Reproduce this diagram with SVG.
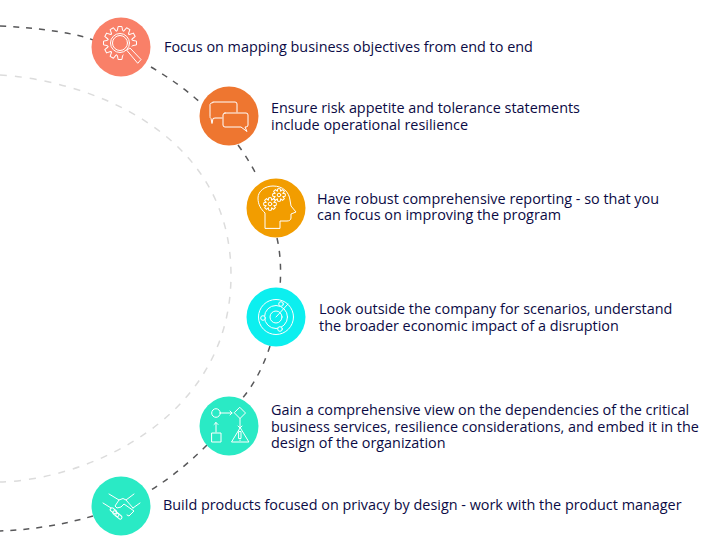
<svg xmlns="http://www.w3.org/2000/svg" width="725" height="549" viewBox="0 0 725 549">
<style>
text{font-family:"Open Sans","Noto Sans","DejaVu Sans",sans-serif;font-size:14.4px;fill:#0b0b45}
.i{fill:none;stroke:#fff;stroke-width:1;stroke-linejoin:round;stroke-linecap:round}
.o{fill:none;stroke:#58585a;stroke-width:1.5;stroke-dasharray:6 7}
.n{fill:none;stroke:#dcdcdc;stroke-width:1.5;stroke-dasharray:7 8}
</style>
<defs>
<path id="t" class="i" d="M-3.24-12.07L-2.6-12.5-1.9-16.5H1.9L2.6-12.5 3.24-12.07"/>
<path id="s" class="i" d="M-1.65-3.97L-1.3-6.3H1.3L1.65-3.97"/>
<g id="g">
<circle class="i" r="1.800"/>
<use href="#s"/><use href="#s" transform="rotate(45)"/><use href="#s" transform="rotate(90)"/><use href="#s" transform="rotate(135)"/>
<use href="#s" transform="rotate(180)"/><use href="#s" transform="rotate(225)"/><use href="#s" transform="rotate(270)"/><use href="#s" transform="rotate(315)"/>
</g>
</defs>
<rect width="725" height="549" fill="#fff"/>
<g id="connectors">
<path class="n" d="M0 75C85 80 231 130 231 275C231 420 85 480 0 482"/>
<path class="o" d="M0 26C40 28 75 33 93 40"/>
<path class="o" d="M151 67C170 78 186 90 201 103"/>
<path class="o" d="M238 145C246 156 252 166 258 178"/>
<path class="o" d="M277 238C281 256 281 272 280 288"/>
<path class="o" d="M270 346C263 368 252 388 240 401"/>
<path class="o" d="M207 445C190 462 172 477 148 492"/>
<path class="o" d="M93 516C62 525 30 530 0 531"/>
</g>
<g id="n1"><circle cx="121" cy="47" r="29.5" fill="#f98068"/>
<g transform="translate(120 43)">
<use href="#t"/><use href="#t" transform="rotate(30)"/><use href="#t" transform="rotate(60)"/><use href="#t" transform="rotate(90)"/>
<use href="#t" transform="rotate(180)"/><use href="#t" transform="rotate(210)"/><use href="#t" transform="rotate(240)"/><use href="#t" transform="rotate(270)"/><use href="#t" transform="rotate(300)"/><use href="#t" transform="rotate(330)"/>
</g>
<circle class="i" cx="120" cy="43" r="9.5"/><circle class="i" cx="120" cy="43" r="7.5"/>
<path class="i" d="M127 50l3-2 11 11.500-3 3.500z"/>
<text x="164" y="52">Focus on mapping business objectives from end to end</text></g>
<g id="n2"><circle cx="229" cy="116" r="29.500" fill="#ee7630"/>
<path class="i" d="M213 102h22a2 2 0 0 1 2 2v8M222 118h-7l-2 .500-1 5-1-5a2 2 0 0 1-1-2v-12a3 3 0 0 1 3-2"/>
<path class="i" d="M225 113h21a2 2 0 0 1 2 2v10a2 2 0 0 1-2 2h-1l2 4.500-6-4.500h-16a2 2 0 0 1-2-2v-10a2 2 0 0 1 2-2z"/>
<text x="271" y="113">Ensure risk appetite and tolerance statements</text><text x="271" y="130">include operational resilience</text></g>
<g id="n3"><circle cx="276" cy="208" r="29.500" fill="#f29d00"/>
<path class="i" d="M265 228V213C261 209 258 205 258 198 258 191 265 186 273 186 283 186 289 192 290 200L291 206 296 212 291 214V218C291 220 289 221 287 221H280V228Z"/>
<use href="#g" transform="translate(270 204)"/>
<use href="#g" transform="translate(279 195)"/>
<text x="317" y="204">Have robust comprehensive reporting - so that you</text><text x="317" y="220">can focus on improving the program</text></g>
<g id="n4"><circle cx="276" cy="317" r="29.500" fill="#0cefef"/>
<circle class="i" cx="276" cy="317" r="17.500"/><circle class="i" cx="276" cy="317" r="11.500"/><circle class="i" cx="276" cy="317" r="6"/>
<path class="i" d="M276 317l12-13"/>
<circle class="i" cx="281" cy="304" r="2.300" style="fill:#0cefef"/><circle class="i" cx="263" cy="318" r="2.300" style="fill:#0cefef"/><circle class="i" cx="280" cy="329" r="2.300" style="fill:#0cefef"/>
<text x="319" y="314">Look outside the company for scenarios, understand</text><text x="319" y="331">the broader economic impact of a disruption</text></g>
<g id="n5"><circle cx="229" cy="426" r="29.500" fill="#2aeac5"/>
<circle class="i" cx="216" cy="413" r="4.300"/><path class="i" d="M220 413h12M230 411l2 2-2 2M240 407.500l5.500 5.500-5.500 5.500-5.500-5.500zM240 418.500v9.500M238 426l2 2 2-2M216 432v-9.500M214 424.500l2-2 2 2"/>
<rect class="i" x="212" y="433" width="9" height="9"/>
<path class="i" d="M240 428l-8.500 14h17zM239 431.500h2v7h-2zM240 440v.5"/>
<text x="271" y="415">Gain a comprehensive view on the dependencies of the critical</text><text x="271" y="432">business services, resilience considerations, and embed it in the</text><text x="271" y="448">design of the organization</text></g>
<g id="n6"><circle cx="121" cy="506" r="29.500" fill="#2aeac5"/>
<path class="i" d="M109 494l10 6 4-1.500 3 1.500 8-6M103 503l8 5M140 503l-7 5M119 500l-4 6 2 2 4-1 3-3 10 7-5 5-2-1M126 500l7 8"/>
<g class="i"><rect x="110" y="509" width="7" height="3.500" rx="1.700" transform="rotate(40 113.500 510.500)"/><rect x="112.500" y="512" width="7" height="3.500" rx="1.700" transform="rotate(40 116 513.500)"/><rect x="115.500" y="514.500" width="7" height="3.500" rx="1.700" transform="rotate(40 119 516)"/></g>
<text x="163" y="510">Build products focused on privacy by design - work with the product manager</text></g>
</svg>
